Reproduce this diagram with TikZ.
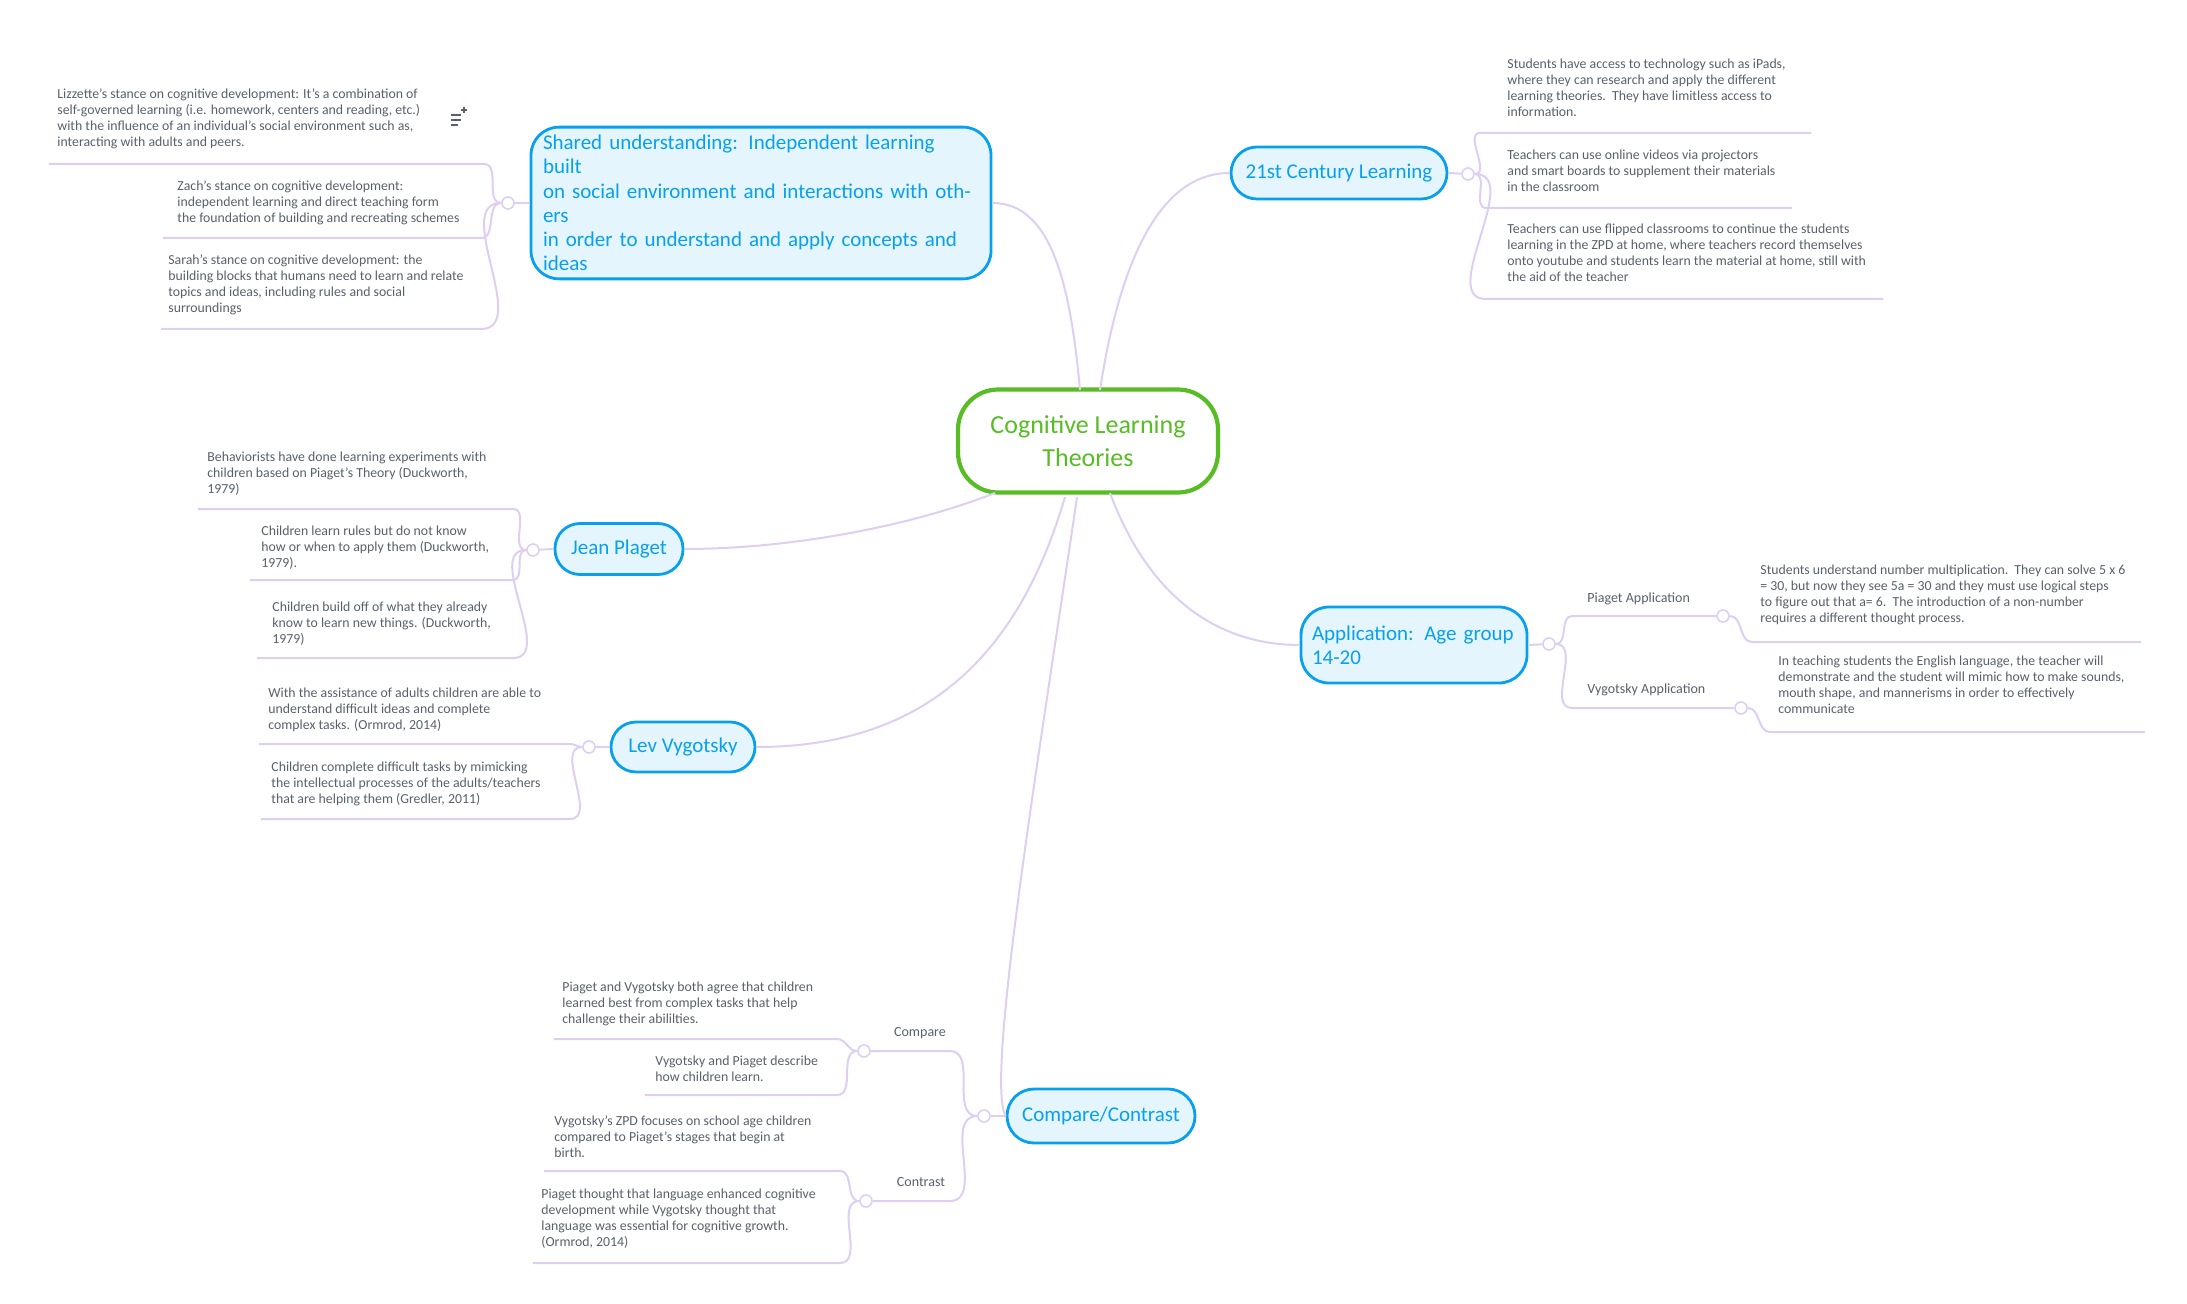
\documentclass[tikz,border=0pt]{standalone}
\usepackage{fontspec}
\setmainfont{Carlito}
\definecolor{linec}{RGB}{222,206,240}
\definecolor{leafgray}{RGB}{88,96,108}
\definecolor{topicblue}{RGB}{8,160,238}
\definecolor{topicfill}{RGB}{228,245,253}
\definecolor{cgreen}{RGB}{88,188,36}
\tikzset{
 topic/.style={draw=topicblue, fill=topicfill, line width=1.4pt, text=topicblue, font=\fontsize{10.5}{12.1}\selectfont, align=left, inner sep=4pt},
 leaf/.style={text=leafgray, font=\fontsize{6.9}{8}\selectfont, align=left, anchor=north west, inner sep=0pt},
 sublab/.style={text=leafgray, font=\fontsize{7}{8}\selectfont, inner sep=0pt},
 junc/.style={circle, draw=linec, fill=white, minimum size=6pt, inner sep=0pt, line width=0.8pt},
 conn/.style={draw=linec, line width=1pt},
}
\begin{document}
\begin{tikzpicture}[x=0.5pt,y=-0.5pt]
\useasboundingbox (0,0) rectangle (2187,1304);
% central
\node[draw=cgreen, line width=2.1pt, fill=white, rounded corners=20pt, minimum width=130pt, minimum height=51.5pt, text=cgreen, align=center, font=\fontsize{13}{16.8}\selectfont] (c) at (1088,441) {Cognitive Learning\\Theories};
% topics
\node[topic, rounded corners=14pt, minimum width=230pt, minimum height=61.5pt, text width=218pt] (sh) at (761,203) {Shared understanding: Independent learning built\\on social environment and interactions with others\\in order to understand and apply concepts and\\ideas};
\node[topic, rounded corners=13pt, minimum width=108pt, minimum height=26pt] (c21) at (1339,173) {21st Century Learning};
\node[topic, rounded corners=14pt, minimum width=113pt, minimum height=38pt, text width=102pt] (app) at (1414,645) {Application: Age group\\14-20};
\node[topic, rounded corners=12.5pt, minimum width=64pt, minimum height=25.5pt] (jp) at (619,549) {Jean Plaget};
\node[topic, rounded corners=12.5pt, minimum width=72pt, minimum height=25pt] (lv) at (683,747) {Lev Vygotsky};
\node[topic, rounded corners=13.5pt, minimum width=94pt, minimum height=27pt] (cc) at (1101,1116) {Compare/Contrast};
% main connectors
\coordinate (a1) at (1080,390);
\coordinate (a2) at (1100,390);
\coordinate (a3) at (1110,493);
\coordinate (a4) at (995,493);
\coordinate (a5) at (1065,497);
\coordinate (a6) at (1077,497);
\draw[conn] (a1) .. controls (1070,280) and (1050,203) .. (sh.east);
\draw[conn] (a2) .. controls (1120,260) and (1160,173) .. (c21.west);
\draw[conn] (a3) .. controls (1150,600) and (1220,645) .. (app.west);
\draw[conn] (a4) .. controls (900,530) and (780,549) .. (jp.east);
\draw[conn] (a5) .. controls (1020,650) and (930,747) .. (lv.east);
\draw[conn] (a6) .. controls (1040,750) and (985,1080) .. (cc.west);
% junctions
\node[junc] (jsh) at (508,203) {};
\node[junc] (j21) at (1468,174) {};
\node[junc] (japp) at (1549,644) {};
\node[junc] (jjp) at (533,550) {};
\node[junc] (jlv) at (589,747) {};
\node[junc] (jcc) at (984,1116) {};
\node[junc] (jpa) at (1723,616) {};
\node[junc] (jva) at (1741,708) {};
\node[junc] (jcm) at (864,1051) {};
\node[junc] (jct) at (866,1201) {};
\draw[conn] (sh.west) -- (jsh); \draw[conn] (c21.east) -- (j21); \draw[conn] (app.east) -- (japp);
\draw[conn] (jp.west) -- (jjp); \draw[conn] (lv.west) -- (jlv); \draw[conn] (cc.west) -- (jcc);
% shared leaves
\draw[conn] (jsh.west) to[out=180,in=0] (484,164) -- (49,164);
\draw[conn] (jsh.west) to[out=180,in=0] (481,238) -- (163,238);
\draw[conn] (jsh.west) to[out=180,in=0] (481,329) -- (161,329);
\node[leaf] (l1) at (57,88) {Lizzette's stance on cognitive development: It's a combination of\\self-governed learning (i.e. homework, centers and reading, etc.)\\with the influence of an individual's social environment such as,\\interacting with adults and peers.};
\node[leaf] (l2) at (177,180) {Zach's stance on cognitive development:\\independent learning and direct teaching form\\the foundation of building and recreating schemes};
\node[leaf] (l3) at (168,254) {Sarah's stance on cognitive development: the\\building blocks that humans need to learn and relate\\topics and ideas, including rules and social\\surroundings};
% note icon
\draw[leafgray, line width=0.9pt] (451,115) -- (461,115) (451,120) -- (461,120) (451,125) -- (458,125);
\draw[leafgray, line width=0.7pt] (461,110) -- (467,110) (464,107) -- (464,113);
% 21st leaves
\draw[conn] (j21.east) to[out=0,in=180] (1480,133) -- (1811,133);
\draw[conn] (j21.east) to[out=0,in=180] (1486,208) -- (1792,208);
\draw[conn] (j21.east) to[out=0,in=180] (1486,299) -- (1883,299);
\node[leaf] (t1) at (1507,59) {Students have access to technology such as iPads,\\where they can research and apply the different\\learning theories.\ \ They have limitless access to\\information.};
\node[leaf] (t2) at (1507,150) {Teachers can use online videos via projectors\\and smart boards to supplement their materials\\in the classroom};
\node[leaf] (t3) at (1507,224) {Teachers can use flipped classrooms to continue the students\\learning in the ZPD at home, where teachers record themselves\\onto youtube and students learn the material at home, still with\\the aid of the teacher};
% application
\draw[conn] (japp.east) to[out=0,in=180] (1572,616) -- (jpa.west);
\draw[conn] (japp.east) to[out=0,in=180] (1572,708) -- (jva.west);
\node[sublab, anchor=west] (pa) at (1587,599) {Piaget Application};
\node[sublab, anchor=west] (va) at (1587,690) {Vygotsky Application};
\draw[conn] (jpa.east) to[out=0,in=180] (1752,642) -- (2141,642);
\draw[conn] (jva.east) to[out=0,in=180] (1770,732) -- (2145,732);
\node[leaf] (p1) at (1760,565) {Students understand number multiplication.\ \ They can solve 5 x 6\\= 30, but now they see 5a = 30 and they must use logical steps\\to figure out that a= 6.\ \ The introduction of a non-number\\requires a different thought process.};
\node[leaf] (p2) at (1778,656) {In teaching students the English language, the teacher will\\demonstrate and the student will mimic how to make sounds,\\mouth shape, and mannerisms in order to effectively\\communicate};
% Jean
\draw[conn] (jjp.west) to[out=180,in=0] (513,509) -- (198,509);
\draw[conn] (jjp.west) to[out=180,in=0] (513,580) -- (250,580);
\draw[conn] (jjp.west) to[out=180,in=0] (513,658) -- (257,658);
\node[leaf] (j1) at (207,452) {Behaviorists have done learning experiments with\\children based on Piaget's Theory (Duckworth,\\1979)};
\node[leaf] (j2) at (261,526) {Children learn rules but do not know\\how or when to apply them (Duckworth,\\1979).};
\node[leaf] (j3) at (272,602) {Children build off of what they already\\know to learn new things. (Duckworth,\\1979)};
% Lev
\draw[conn] (jlv.west) to[out=180,in=0] (570,744) -- (259,744);
\draw[conn] (jlv.west) to[out=180,in=0] (570,819) -- (261,819);
\node[leaf] (v1) at (268,688) {With the assistance of adults children are able to\\understand difficult ideas and complete\\complex tasks. (Ormrod, 2014)};
\node[leaf] (v2) at (271,762) {Children complete difficult tasks by mimicking\\the intellectual processes of the adults/teachers\\that are helping them (Gredler, 2011)};
% Compare/Contrast
\draw[conn] (jcc.west) to[out=180,in=0] (950,1051) -- (jcm.east);
\draw[conn] (jcc.west) to[out=180,in=0] (950,1201) -- (jct.east);
\node[sublab] (cm) at (920,1033) {Compare};
\node[sublab] (ct) at (921,1182) {Contrast};
\draw[conn] (jcm.west) to[out=180,in=0] (837,1039) -- (554,1039);
\draw[conn] (jcm.west) to[out=180,in=0] (837,1095) -- (645,1095);
\draw[conn] (jct.west) to[out=180,in=0] (840,1171) -- (544,1171);
\draw[conn] (jct.west) to[out=180,in=0] (840,1263) -- (533,1263);
\node[leaf] (c1) at (562,982) {Piaget and Vygotsky both agree that children\\learned best from complex tasks that help\\challenge their abililties.};
\node[leaf] (c2) at (655,1056) {Vygotsky and Piaget describe\\how children learn.};
\node[leaf] (c3) at (554,1115) {Vygotsky's ZPD focuses on school age children\\compared to Piaget's stages that begin at\\birth.};
\node[leaf] (c4) at (541,1189) {Piaget thought that language enhanced cognitive\\development while Vygotsky thought that\\language was essential for cognitive growth.\\(Ormrod, 2014)};
\end{tikzpicture}
\end{document}
